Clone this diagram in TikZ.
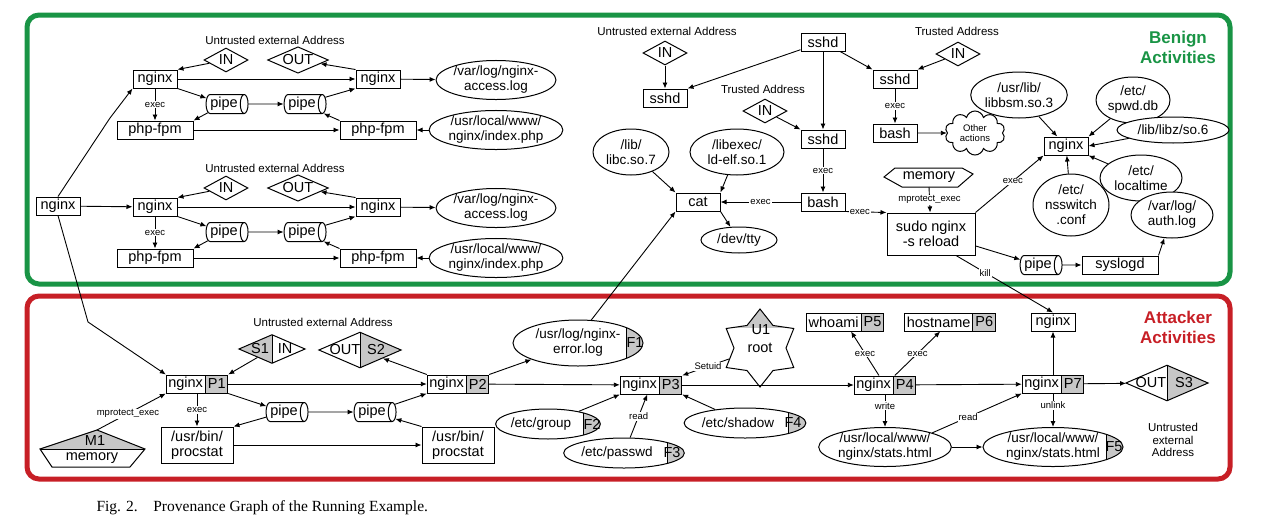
\documentclass[tikz,border=0pt]{standalone}
\usepackage{fontspec}
\setmainfont{Liberation Serif}
\setsansfont{Liberation Sans}
\usetikzlibrary{shapes.geometric,shapes.multipart,shapes.symbols,arrows.meta}
\definecolor{bgreen}{rgb}{0.10,0.58,0.27}
\definecolor{ared}{rgb}{0.78,0.12,0.15}
\definecolor{sh}{gray}{0.78}
\newcommand{\nf}{\sffamily\fontsize{14.5}{15.5}\selectfont}
\newcommand{\ef}{\sffamily\fontsize{13.5}{15}\selectfont}
\newcommand{\lf}{\sffamily\fontsize{9.5}{10}\selectfont}
\newcommand{\hf}{\sffamily\fontsize{11.5}{12.5}\selectfont}
\begin{document}
\begin{tikzpicture}[x=1pt,y=-1pt,
  arr/.style={-{Latex[length=6pt,width=5pt]},line width=0.9pt},
  box/.style={draw,line width=1pt,fill=white,font=\nf,inner sep=2pt,minimum height=18,minimum width=44,align=center},
  ps/.style={draw,line width=1pt,font=\nf,rectangle split,rectangle split horizontal,rectangle split parts=2,rectangle split part fill={white,sh},inner sep=2pt,minimum height=18},
  ell/.style={draw,ellipse,line width=1pt,fill=white,font=\ef,align=center,inner sep=0pt,minimum width=116,minimum height=38},
  dia/.style={draw,diamond,aspect=2.3,line width=1pt,fill=white,font=\nf,inner sep=1pt,minimum height=24},
  pipe/.style={draw,cylinder,line width=1pt,fill=white,font=\nf,minimum height=42,minimum width=19,inner sep=1pt,shape aspect=0.5},
  lbl/.style={font=\lf,fill=white,inner sep=1pt},
  hdr/.style={font=\hf},
  fell/.style={ell,path picture={\fill[sh]([xshift=-17pt]path picture bounding box.north east) rectangle (path picture bounding box.south east);\draw[line width=1pt]([xshift=-17pt]path picture bounding box.north east) -- ([xshift=-17pt]path picture bounding box.south east);}},
  sleft/.style={dia,path picture={\fill[sh](path picture bounding box.north west) rectangle (path picture bounding box.south);\draw[line width=1pt](path picture bounding box.north) -- (path picture bounding box.south);}},
  sright/.style={dia,path picture={\fill[sh](path picture bounding box.north) rectangle (path picture bounding box.south east);\draw[line width=1pt](path picture bounding box.north) -- (path picture bounding box.south);}},
]
\useasboundingbox (0,0) rectangle (1261,525);
\draw[bgreen,line width=5pt,rounded corners=12pt] (27,15) rectangle (1230,284);
\draw[ared,line width=5pt,rounded corners=12pt] (27,296) rectangle (1230,479);
\node[font=\sffamily\bfseries\fontsize{17}{20}\selectfont,text=bgreen,align=center] (tb) at (1178,47) {Benign\\Activities};
\node[font=\sffamily\bfseries\fontsize{17}{20}\selectfont,text=ared,align=center] (ta) at (1178,327) {Attacker\\Activities};
\node[font=\rmfamily\fontsize{15.5}{17}\selectfont,anchor=west] (cap) at (93,508) {Fig. 2.\quad Provenance Graph of the Running Example.};

% left blocks
\node[box] (root) at (58,206) {nginx};
\foreach \k/\y in {1/0,2/128}{
  \node[hdr] (t\k) at (275,40+\y) {Untrusted external Address};
  \node[dia] (in\k) at (226,60+\y) {IN};
  \node[dia] (out\k) at (298,60+\y) {OUT};
  \node[box] (a\k) at (155,79+\y) {nginx};
  \node[box] (b\k) at (378,79+\y) {nginx};
  \node[ell] (e\k) at (496,80+\y) {/var/log/nginx-\\access.log};
  \node[pipe] (pa\k) at (224,104+\y) {pipe};
  \node[pipe] (pb\k) at (302,104+\y) {pipe};
  \node[box,minimum width=76] (f\k) at (155,130+\y) {php-fpm};
  \node[box,minimum width=76] (g\k) at (378,130+\y) {php-fpm};
  \node[ell] (h\k) at (496,130+\y) {/usr/local/www/\\nginx/index.php};
  \draw[arr] (in\k) -- (a\k.north east);
  \draw[arr] (b\k.north west) -- (out\k);
  \draw[arr] (a\k) -- (b\k);
  \draw[arr] (a\k.south east) -- (pa\k);
  \draw[arr] (pa\k) -- (pb\k);
  \draw[arr] (pb\k) -- (b\k.south west);
  \draw[arr] (pa\k) -- (f\k.north east);
  \draw[arr] (g\k.north west) -- (pb\k);
  \draw[arr] (a\k) -- node[lbl]{exec} (f\k);
  \draw[arr] (f\k) -- (g\k);
  \draw[arr] (b\k) -- (e\k);
  \draw[arr] (h\k) -- (g\k);
}
\coordinate (r1) at (110,118);
\coordinate (r2) at (88,322);
\draw[arr] (root.north) -- (r1) -- (a1.south west);
\draw[arr] (root) -- (a2);

% top right
\node[hdr] (t3) at (667,31) {Untrusted external Address};
\node[dia] (in3) at (665,53) {IN};
\node[box] (s1) at (665,98) {sshd};
\node[box] (s0) at (823,42) {sshd};
\node[hdr] (t4) at (957,31) {Trusted Address};
\node[dia] (in4) at (958,54) {IN};
\node[box] (s3) at (895,79) {sshd};
\node[hdr] (t5) at (763,89) {Trusted Address};
\node[dia] (in5) at (765,111) {IN};
\node[box] (s2) at (823,139) {sshd};
\node[box] (bs1) at (823,202) {bash};
\node[box] (bs2) at (895,133) {bash};
\node[cloud,draw,line width=1pt,cloud puffs=10,aspect=1.3,font=\lf,align=center,inner sep=0pt,minimum width=60,minimum height=44] (cl) at (975,133) {Other\\actions};
\node[ell,minimum width=76,minimum height=46] (libc) at (631,152) {/lib/\\libc.so.7};
\node[ell,minimum width=94,minimum height=46] (ld) at (737,152) {/libexec/\\ld-elf.so.1};
\node[box] (cat) at (698,202) {cat};
\node[ell,minimum width=76,minimum height=26] (tty) at (739,240) {/dev/tty};
\draw[line width=1pt,fill=white] (895,168) -- (962,168) -- (973,174) -- (958,187) -- (902,187) -- (884,177) -- cycle;
\node[font=\nf] (mem) at (929,177) {memory};
\node[box,minimum width=88,minimum height=42] (sudo) at (931,234) {sudo nginx\\-s reload};
\node[box] (nr) at (1066,146) {nginx};
\node[ell,minimum width=94,minimum height=46] (l1) at (1019,95) {/usr/lib/\\libbsm.so.3};
\node[ell,minimum width=74,minimum height=46] (l2) at (1133,100) {/etc/\\spwd.db};
\node[ell,minimum width=112,minimum height=26] (l3) at (1173,130) {/lib/libz/so.6};
\node[ell,minimum width=82,minimum height=46] (l4) at (1141,178) {/etc/\\localtime};
\node[ell,minimum width=76,minimum height=62] (l5) at (1071,205) {/etc/\\nsswitch\\.conf};
\node[ell,minimum width=82,minimum height=46] (al) at (1172,215) {/var/log/\\auth.log};
\node[pipe] (p5) at (1038,265) {pipe};
\node[box,minimum width=76] (sy) at (1120,265) {syslogd};
\draw[arr] (in3) -- (s1);
\draw[arr] (s0) -- (s1.north east);
\draw[arr] (s0) -- (s2);
\draw[arr] (s0) -- (s3.north west);
\draw[arr] (in4) -- (s3.north east);
\draw[arr] (in5) -- (s2.north west);
\draw[arr] (s2) -- node[lbl]{exec} (bs1);
\draw[arr] (s3) -- node[lbl]{exec} (bs2);
\draw[arr] (bs2) -- (cl);
\draw[arr] (libc) -- (cat.north west);
\draw[arr] (ld) -- (cat.north east);
\draw[arr] (bs1) -- node[lbl]{exec} (cat);
\draw[arr] (cat.south east) -- (tty);
\draw[arr] (bs1.south east) -- node[lbl,pos=0.35]{exec} (sudo.north west);
\draw[arr] (mem) ++(0,10) -- node[lbl]{mprotect\_exec} (sudo);
\draw[arr] (sudo.north east) -- node[lbl,pos=0.55]{exec} (nr.south west);
\draw[arr] (l1) -- (nr);
\draw[arr] (l2) -- (nr.north east);
\draw[arr] (l3) -- (nr.east);
\draw[arr] (l4) -- (nr.south east);
\draw[arr] (l5) -- (nr);
\draw[arr] (sudo.-15) -- (p5);
\draw[arr] (p5) -- (sy);
\draw[arr] (sy.north east) -- (al);

% attacker
\node[hdr] (t6) at (323,322) {Untrusted external Address};
\node[sleft,minimum width=54] (S1) at (272,349) {\phantom{S1 IN}};
\node[font=\nf] (S1a) at (260,349) {S1};
\node[font=\nf] (S1b) at (285,349) {IN};
\node[sright,minimum width=60] (S2) at (360,350) {\phantom{OUT S2}};
\node[font=\nf] (S2a) at (345,350) {OUT};
\node[font=\nf] (S2b) at (376,350) {S2};
\node[ps] (P1) at (197,384) {nginx\nodepart{two}P1};
\node[ps] (P2) at (458,384) {nginx\nodepart{two}P2};
\node[ps] (P3) at (651,385) {nginx\nodepart{two}P3};
\node[ps] (P4) at (885,385) {nginx\nodepart{two}P4};
\node[ps] (P7) at (1053,384) {nginx\nodepart{two}P7};
\node[sright,minimum width=66] (S3) at (1167,383) {\phantom{OUT S3}};
\node[font=\nf] (S3a) at (1151,383) {OUT};
\node[font=\nf] (S3b) at (1184,383) {S3};
\node[fell,minimum width=130,minimum height=46] (F1) at (578,343) {/usr/log/nginx-\\error.log\hspace{14pt}};
\node[font=\nf] (F1l) at (635,343) {F1};
\node[pipe] (q1) at (284,412) {pipe};
\node[pipe] (q2) at (372,412) {pipe};
\node[box,minimum width=72,minimum height=36] (pr1) at (197,445) {/usr/bin/\\procstat};
\node[box,minimum width=72,minimum height=36] (pr2) at (458,445) {/usr/bin/\\procstat};
\fill[sh] (97,430) -- (40,449) -- (145,449) -- cycle;
\draw[line width=1pt] (97,430) -- (145,449) -- (130,467) -- (52,467) -- (40,449) -- cycle;
\draw[line width=1pt] (40,449) -- (145,449);
\coordinate (m1) at (97,430);
\node[font=\nf] (m1a) at (95,441) {M1};
\node[font=\nf] (m1b) at (92,458) {memory};
\node[fell,minimum width=104,minimum height=30] (F2) at (548,424) {/etc/group\hspace{14pt}};
\node[font=\nf] (F2l) at (592,424) {F2};
\node[fell,minimum width=112,minimum height=30] (F3) at (624,453) {/etc/passwd\hspace{14pt}};
\node[font=\nf] (F3l) at (672,453) {F3};
\node[fell,minimum width=112,minimum height=30] (F4) at (745,423) {/etc/shadow\hspace{14pt}};
\node[font=\nf] (F4l) at (793,423) {F4};
\node[star,star points=6,star point ratio=1.5,draw,line width=1pt,minimum size=78,font=\nf,inner sep=1pt,path picture={\fill[sh](path picture bounding box.north west) rectangle ([yshift=-19pt]path picture bounding box.north east);}] (U1) at (760,348) {root};
\node[font=\nf] (U1l) at (761,330) {U1};
\node[ps] (P5) at (845,322) {whoami\nodepart{two}P5};
\node[ps] (P6) at (950,322) {hostname\nodepart{two}P6};
\node[ell,minimum width=124,minimum height=38] (st1) at (885,447) {/usr/local/www/\\nginx/stats.html};
\node[fell,minimum width=140,minimum height=38] (F5) at (1053,447) {/usr/local/www/\\nginx/stats.html\hspace{14pt}};
\node[font=\nf] (F5l) at (1114,447) {F5};
\node[box] (nt) at (1053,322) {nginx};
\node[font=\hf,align=center] (t7) at (1173,440) {Untrusted\\external\\Address};

\draw[arr] (root.south) -- (r2) -- (P1.north west);
\draw[arr] (S1) -- (P1.north east);
\draw[arr] (P1) -- (P2);
\draw[arr] (P1.south east) -- (q1);
\draw[arr] (q1) -- (q2);
\draw[arr] (q2) -- (P2.south west);
\draw[arr] (q1) -- (pr1.north east);
\draw[arr] (pr2.north west) -- (q2);
\draw[arr] (P1) -- node[lbl]{exec} (pr1);
\draw[arr] (pr1) -- (pr2);
\draw[arr] (m1) -- node[lbl,pos=0.45]{mprotect\_exec} (P1.south west);
\draw[arr] (P2.north west) -- (S2);
\draw[arr] (P2.north east) -- (F1);
\draw[arr] (F1.60) -- (cat.south west);
\draw[arr] (P2) -- (P3);
\draw[arr] (F2) -- (P3.south west);
\draw[arr] (F3) -- node[lbl]{read} (P3);
\draw[arr] (F4) -- (P3.south east);
\draw[arr] (U1) -- node[lbl,pos=0.45]{Setuid} (P3.north east);
\draw[arr] (P3) -- (P4);
\draw[arr] (P4) -- node[lbl]{exec} (P5);
\draw[arr] (P4) -- node[lbl]{exec} (P6);
\draw[arr] (P4) -- node[lbl,pos=0.35]{write} (st1);
\draw[arr] (st1.north east) -- node[lbl,pos=0.4]{read} (P7.south west);
\draw[arr] (st1) -- (F5);
\draw[arr] (P7) -- node[lbl,pos=0.35]{unlink} (F5);
\draw[arr] (P4) -- (P7);
\draw[arr] (P7) -- (nt);
\draw[arr] (P7) -- (S3);
\draw[arr] (sudo.south) ++(25,0) -- node[lbl,pos=0.3]{kill} (nt.north);
\end{tikzpicture}
\end{document}
